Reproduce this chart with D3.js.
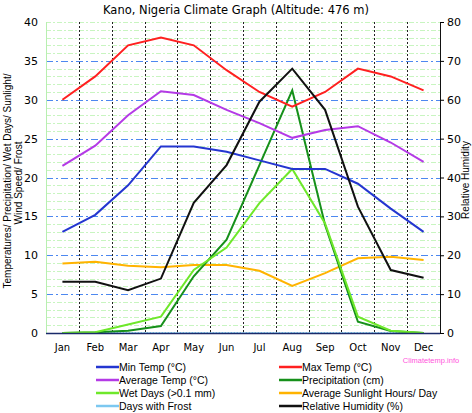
<!DOCTYPE html>
<html>
<head>
<meta charset="utf-8">
<script src="https://cdn.jsdelivr.net/npm/d3@7/dist/d3.min.js"></script>
<style>
  body { margin: 0; background: #fff; }
  svg { display: block; }
</style>
</head>
<body>
<script>
// data
var months = ["Jan","Feb","Mar","Apr","May","Jun","Jul","Aug","Sep","Oct","Nov","Dec"];
var minTemp  = [13, 15.2, 19, 24, 24, 23.3, 22.2, 21.1, 21.1, 19.2, 16, 13];
var maxTemp  = [30, 33, 37, 38, 37, 33.8, 31, 29.1, 31, 34, 33, 31.2];
var avgTemp  = [21.5, 24.1, 28, 31.1, 30.6, 28.7, 27, 25.1, 26.1, 26.6, 24.5, 22];
var precip   = [0, 0.1, 0.3, 0.9, 7.3, 12, 21.6, 31.2, 13.9, 1.45, 0.25, 0];
var wetDays  = [0, 0.1, 1.1, 2.1, 8.1, 11, 16.7, 21.1, 14.1, 2.1, 0.3, 0];
var sunlight = [8.95, 9.15, 8.65, 8.45, 8.75, 8.75, 8.0, 6.05, 7.7, 9.6, 9.8, 9.4];
var humidity = [13.2, 13.2, 11, 14, 33.5, 43.2, 59.5, 68, 57.4, 32.5, 16.2, 14.2];
var frost    = [0, 0, 0, 0, 0, 0, 0, 0, 0, 0, 0, 0];
var leftTicks  = [0, 5, 10, 15, 20, 25, 30, 35, 40];
var rightTicks = [0, 10, 20, 30, 40, 50, 60, 70, 80];

var width = 472,
	height = 413;

//plot box
var pLeft = 46, pRight = 440, pTop = 22, pBottom = 333;

var svg = d3.select("body").append("svg")
	.attr("width", width)
	.attr("height", height);

var x = d3.scalePoint().domain(months).range([pLeft, pRight]).padding(0.5);
var y = d3.scaleLinear().domain([0, 40]).range([pBottom, pTop]);
var yR = d3.scaleLinear().domain([0, 80]).range([pBottom, pTop]);
var step = x.step();

// title
svg.append("text")
	.attr("x", 236).attr("y", 14)
	.attr("text-anchor", "middle")
	.style("font", "11.5px 'DejaVu Sans'")
	.text("Kano, Nigeria Climate Graph (Altitude: 476 m)");

// horizontal grid, minor every 1 unit, major every 5
var g = svg.append("g");
g.selectAll("line.minor").data(d3.range(1, 41).filter(function(d){ return d % 5 != 0 || d == 40; }))
	.enter().append("line")
	.attr("x1", pLeft).attr("x2", pRight)
	.attr("y1", function(d){ return Math.round(y(d)) + 0.5; })
	.attr("y2", function(d){ return Math.round(y(d)) + 0.5; })
	.attr("stroke", "#c8f5c0").attr("stroke-width", 1)
	.attr("stroke-dasharray", "5,2,2,2");
g.selectAll("line.major").data([5, 10, 15, 20, 25, 30, 35])
	.enter().append("line")
	.attr("x1", pLeft).attr("x2", pRight)
	.attr("y1", function(d){ return Math.round(y(d)) + 0.5; })
	.attr("y2", function(d){ return Math.round(y(d)) + 0.5; })
	.attr("stroke", "#4d88f0").attr("stroke-width", 1)
	.attr("stroke-dasharray", "7,3,2,3");

// vertical dotted lines between months
g.selectAll("line.v").data(months.slice(1))
	.enter().append("line")
	.attr("x1", function(d){ return Math.round(x(d) - step / 2) + 0.5; })
	.attr("x2", function(d){ return Math.round(x(d) - step / 2) + 0.5; })
	.attr("y1", pTop).attr("y2", pBottom)
	.attr("stroke", "#222").attr("stroke-width", 1)
	.attr("stroke-dasharray", "2,2");

// left axis (light green line)
svg.append("line")
	.attr("x1", pLeft + 0.5).attr("x2", pLeft + 0.5)
	.attr("y1", pTop).attr("y2", pBottom)
	.attr("stroke", "#b8efb0");

svg.append("g").selectAll("text").data(leftTicks)
	.enter().append("text")
	.attr("x", 38).attr("y", function(d){ return y(d) + 4; })
	.attr("text-anchor", "end")
	.style("font", "11px 'DejaVu Sans'")
	.text(function(d){ return d; });

// series lines
var series = [
	{values: frost, color: "#7cc8f0", dash: "2,1"},
	{values: sunlight, color: "#ffb300"},
	{values: precip, color: "#16901a"},
	{values: wetDays, color: "#6ee82a"},
	{values: minTemp, color: "#2436d0"},
	{values: avgTemp, color: "#b43ae6"},
	{values: maxTemp, color: "#ff2020"},
	{values: humidity, color: "#111", scale: yR}
];

var line = function(s){
	var sc = s.scale || y;
	return d3.line()
		.x(function(d, i){ return x(months[i]); })
		.y(function(d){ return sc(d); })(s.values);
};

svg.append("g").selectAll("path").data(series)
	.enter().append("path")
	.attr("d", line)
	.attr("fill", "none")
	.attr("stroke", function(d){ return d.color; })
	.attr("stroke-width", 2)
	.attr("stroke-dasharray", function(d){ return d.dash || null; });

// bottom axis
svg.append("line")
	.attr("x1", pLeft).attr("x2", pRight)
	.attr("y1", pBottom + 0.5).attr("y2", pBottom + 0.5)
	.attr("stroke", "#1a2a6a").attr("stroke-width", 1.5);

svg.append("g").selectAll("text").data(months)
	.enter().append("text")
	.attr("x", function(d){ return x(d); })
	.attr("y", 351)
	.attr("text-anchor", "middle")
	.style("font", "10px 'DejaVu Sans'")
	.text(function(d){ return d; });

// right axis
var ra = svg.append("g")
	.attr("transform", "translate(" + pRight + ",0)")
	.call(d3.axisRight(yR).tickValues(rightTicks).tickSize(4).tickPadding(3));
ra.select(".domain").attr("stroke", "#111");
ra.selectAll("text").style("font", "11px 'DejaVu Sans'").attr("fill", "#000");

// axis titles
svg.append("text")
	.attr("transform", "translate(11,181) rotate(-90)")
	.attr("text-anchor", "middle")
	.style("font", "10px 'Liberation Sans'")
	.text("Temperatures/ Precipitation/ Wet Days/ Sunlight/");
svg.append("text")
	.attr("transform", "translate(22,183) rotate(-90)")
	.attr("text-anchor", "middle")
	.style("font", "10px 'Liberation Sans'")
	.text("Wind Speed/ Frost");
svg.append("text")
	.attr("transform", "translate(469,180) rotate(-90)")
	.attr("text-anchor", "middle")
	.style("font", "10px 'Liberation Sans'")
	.text("Relative Humidity");

// watermark
svg.append("text")
	.attr("x", 431).attr("y", 363)
	.attr("text-anchor", "middle")
	.attr("fill", "#ff55dd")
	.style("font", "7.5px 'Liberation Sans'")
	.text("Climatetemp.info");

// legend
var legend = [
	{name: "Min Temp (°C)", color: "#2436d0", col: 0},
	{name: "Max Temp (°C)", color: "#ff2020", col: 1},
	{name: "Average Temp (°C)", color: "#b43ae6", col: 0},
	{name: "Precipitation (cm)", color: "#16901a", col: 1},
	{name: "Wet Days (>0.1 mm)", color: "#6ee82a", col: 0},
	{name: "Average Sunlight Hours/ Day", color: "#ffb300", col: 1},
	{name: "Days with Frost", color: "#7cc8f0", col: 0},
	{name: "Relative Humidity (%)", color: "#111", col: 1}
];

var items = svg.append("g").selectAll("g").data(legend)
	.enter().append("g")
	.attr("transform", function(d, i){
		return "translate(" + (d.col ? 279 : 96) + "," + (367 + Math.floor(i / 2) * 13) + ")";
	});
items.append("line")
	.attr("x1", 0).attr("x2", 23)
	.attr("stroke", function(d){ return d.color; })
	.attr("stroke-width", 2.5);
items.append("text")
	.attr("x", 23).attr("y", 4)
	.style("font", "10.5px 'Liberation Sans'")
	.text(function(d){ return d.name; });
</script>
</body>
</html>
